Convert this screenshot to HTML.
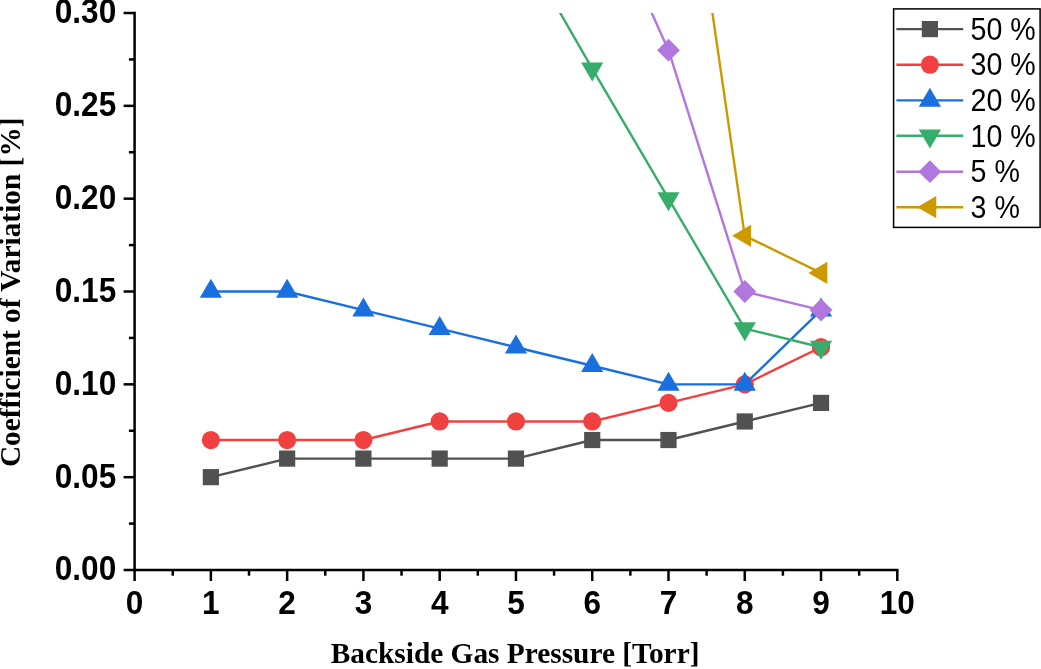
<!DOCTYPE html>
<html><head><meta charset="utf-8"><title>Coefficient of Variation vs Backside Gas Pressure</title>
<style>
html,body{margin:0;padding:0;background:#fff;}
body{width:1041px;height:669px;overflow:hidden;}
svg{display:block;}
.tk{font-family:"Liberation Sans",Arial,sans-serif;font-weight:bold;font-size:34.5px;fill:#000;}
.lg{font-family:"Liberation Sans",Arial,sans-serif;font-size:31.2px;fill:#000;}
.tt{font-family:"Liberation Serif","Times New Roman",serif;font-weight:bold;font-size:29.35px;fill:#000;font-variant-ligatures:none;font-feature-settings:"liga" 0,"clig" 0;}
</style></head><body>
<svg width="1041" height="669" viewBox="0 0 1041 669">
<rect width="1041" height="669" fill="#fff"/>
<defs><clipPath id="plot"><rect x="134.6" y="13" width="780" height="557"/></clipPath></defs>

<g stroke="#000" stroke-width="2.5" fill="none" stroke-linecap="butt">
<line x1="134.6" y1="11.75" x2="134.6" y2="571.25"/>
<line x1="133.35" y1="570.0" x2="898.55" y2="570.0"/>
<line x1="134.60" y1="570.0" x2="134.60" y2="581.0"/>
<line x1="172.73" y1="570.0" x2="172.73" y2="575.7"/>
<line x1="210.87" y1="570.0" x2="210.87" y2="581.0"/>
<line x1="249.00" y1="570.0" x2="249.00" y2="575.7"/>
<line x1="287.14" y1="570.0" x2="287.14" y2="581.0"/>
<line x1="325.27" y1="570.0" x2="325.27" y2="575.7"/>
<line x1="363.41" y1="570.0" x2="363.41" y2="581.0"/>
<line x1="401.54" y1="570.0" x2="401.54" y2="575.7"/>
<line x1="439.68" y1="570.0" x2="439.68" y2="581.0"/>
<line x1="477.81" y1="570.0" x2="477.81" y2="575.7"/>
<line x1="515.95" y1="570.0" x2="515.95" y2="581.0"/>
<line x1="554.08" y1="570.0" x2="554.08" y2="575.7"/>
<line x1="592.22" y1="570.0" x2="592.22" y2="581.0"/>
<line x1="630.36" y1="570.0" x2="630.36" y2="575.7"/>
<line x1="668.49" y1="570.0" x2="668.49" y2="581.0"/>
<line x1="706.62" y1="570.0" x2="706.62" y2="575.7"/>
<line x1="744.76" y1="570.0" x2="744.76" y2="581.0"/>
<line x1="782.89" y1="570.0" x2="782.89" y2="575.7"/>
<line x1="821.03" y1="570.0" x2="821.03" y2="581.0"/>
<line x1="859.16" y1="570.0" x2="859.16" y2="575.7"/>
<line x1="897.30" y1="570.0" x2="897.30" y2="581.0"/>
<line x1="134.6" y1="570.00" x2="123.6" y2="570.00"/>
<line x1="134.6" y1="523.59" x2="128.9" y2="523.59"/>
<line x1="134.6" y1="477.17" x2="123.6" y2="477.17"/>
<line x1="134.6" y1="430.75" x2="128.9" y2="430.75"/>
<line x1="134.6" y1="384.34" x2="123.6" y2="384.34"/>
<line x1="134.6" y1="337.93" x2="128.9" y2="337.93"/>
<line x1="134.6" y1="291.51" x2="123.6" y2="291.51"/>
<line x1="134.6" y1="245.09" x2="128.9" y2="245.09"/>
<line x1="134.6" y1="198.68" x2="123.6" y2="198.68"/>
<line x1="134.6" y1="152.26" x2="128.9" y2="152.26"/>
<line x1="134.6" y1="105.85" x2="123.6" y2="105.85"/>
<line x1="134.6" y1="59.44" x2="128.9" y2="59.44"/>
<line x1="134.6" y1="13.02" x2="123.6" y2="13.02"/>
</g>
<text class="tk" style="font-size:33.5px" transform="translate(134.60,613.5) scale(0.942,1)" text-anchor="middle">0</text>
<text class="tk" style="font-size:33.5px" transform="translate(210.87,613.5) scale(0.942,1)" text-anchor="middle">1</text>
<text class="tk" style="font-size:33.5px" transform="translate(287.14,613.5) scale(0.942,1)" text-anchor="middle">2</text>
<text class="tk" style="font-size:33.5px" transform="translate(363.41,613.5) scale(0.942,1)" text-anchor="middle">3</text>
<text class="tk" style="font-size:33.5px" transform="translate(439.68,613.5) scale(0.942,1)" text-anchor="middle">4</text>
<text class="tk" style="font-size:33.5px" transform="translate(515.95,613.5) scale(0.942,1)" text-anchor="middle">5</text>
<text class="tk" style="font-size:33.5px" transform="translate(592.22,613.5) scale(0.942,1)" text-anchor="middle">6</text>
<text class="tk" style="font-size:33.5px" transform="translate(668.49,613.5) scale(0.942,1)" text-anchor="middle">7</text>
<text class="tk" style="font-size:33.5px" transform="translate(744.76,613.5) scale(0.942,1)" text-anchor="middle">8</text>
<text class="tk" style="font-size:33.5px" transform="translate(821.03,613.5) scale(0.942,1)" text-anchor="middle">9</text>
<text class="tk" style="font-size:33.5px" transform="translate(897.30,613.5) scale(0.942,1)" text-anchor="middle">10</text>
<text class="tk" transform="translate(116.2,580.40) scale(0.915,1)" text-anchor="end">0.00</text>
<text class="tk" transform="translate(116.2,487.57) scale(0.915,1)" text-anchor="end">0.05</text>
<text class="tk" transform="translate(116.2,394.74) scale(0.915,1)" text-anchor="end">0.10</text>
<text class="tk" transform="translate(116.2,301.91) scale(0.915,1)" text-anchor="end">0.15</text>
<text class="tk" transform="translate(116.2,209.08) scale(0.915,1)" text-anchor="end">0.20</text>
<text class="tk" transform="translate(116.2,116.25) scale(0.915,1)" text-anchor="end">0.25</text>
<text class="tk" transform="translate(116.2,23.42) scale(0.915,1)" text-anchor="end">0.30</text>
<text class="tt" x="515.1" y="663.0" text-anchor="middle">Backside Gas Pressure [Torr]</text>
<text class="tt" transform="translate(19.7,292.3) rotate(-90)" text-anchor="middle">Coefficient of Variation [%]</text>
<g clip-path="url(#plot)">
<polyline points="210.87,477.17 287.14,458.60 363.41,458.60 439.68,458.60 515.95,458.60 592.22,440.04 668.49,440.04 744.76,421.47 821.03,402.91" fill="none" stroke="#515151" stroke-width="2.4" stroke-linejoin="round"/>
<rect x="202.77" y="469.07" width="16.2" height="16.2" fill="#515151"/>
<rect x="279.04" y="450.50" width="16.2" height="16.2" fill="#515151"/>
<rect x="355.31" y="450.50" width="16.2" height="16.2" fill="#515151"/>
<rect x="431.58" y="450.50" width="16.2" height="16.2" fill="#515151"/>
<rect x="507.85" y="450.50" width="16.2" height="16.2" fill="#515151"/>
<rect x="584.12" y="431.94" width="16.2" height="16.2" fill="#515151"/>
<rect x="660.39" y="431.94" width="16.2" height="16.2" fill="#515151"/>
<rect x="736.66" y="413.37" width="16.2" height="16.2" fill="#515151"/>
<rect x="812.93" y="394.81" width="16.2" height="16.2" fill="#515151"/>
<polyline points="210.87,440.04 287.14,440.04 363.41,440.04 439.68,421.47 515.95,421.47 592.22,421.47 668.49,402.91 744.76,384.34 821.03,347.21" fill="none" stroke="#F14040" stroke-width="2.4" stroke-linejoin="round"/>
<circle cx="210.87" cy="440.04" r="9.1" fill="#F14040"/>
<circle cx="287.14" cy="440.04" r="9.1" fill="#F14040"/>
<circle cx="363.41" cy="440.04" r="9.1" fill="#F14040"/>
<circle cx="439.68" cy="421.47" r="9.1" fill="#F14040"/>
<circle cx="515.95" cy="421.47" r="9.1" fill="#F14040"/>
<circle cx="592.22" cy="421.47" r="9.1" fill="#F14040"/>
<circle cx="668.49" cy="402.91" r="9.1" fill="#F14040"/>
<circle cx="744.76" cy="384.34" r="9.1" fill="#F14040"/>
<circle cx="821.03" cy="347.21" r="9.1" fill="#F14040"/>
<polyline points="210.87,291.51 287.14,291.51 363.41,310.08 439.68,328.64 515.95,347.21 592.22,365.77 668.49,384.34 744.76,384.34 821.03,310.08" fill="none" stroke="#1A6FDF" stroke-width="2.4" stroke-linejoin="round"/>
<polygon points="210.87,278.84 199.77,297.84 221.97,297.84" fill="#1A6FDF"/>
<polygon points="287.14,278.84 276.04,297.84 298.24,297.84" fill="#1A6FDF"/>
<polygon points="363.41,297.41 352.31,316.41 374.51,316.41" fill="#1A6FDF"/>
<polygon points="439.68,315.98 428.58,334.98 450.78,334.98" fill="#1A6FDF"/>
<polygon points="515.95,334.54 504.85,353.54 527.05,353.54" fill="#1A6FDF"/>
<polygon points="592.22,353.11 581.12,372.11 603.32,372.11" fill="#1A6FDF"/>
<polygon points="668.49,371.67 657.39,390.67 679.59,390.67" fill="#1A6FDF"/>
<polygon points="744.76,371.67 733.66,390.67 755.86,390.67" fill="#1A6FDF"/>
<polygon points="821.03,297.41 809.93,316.41 832.13,316.41" fill="#1A6FDF"/>
<polyline points="515.95,-64.21 592.22,68.72 668.49,198.68 744.76,328.64 821.03,347.21" fill="none" stroke="#37AD6B" stroke-width="2.4" stroke-linejoin="round"/>
<polygon points="592.22,81.38 581.12,62.38 603.32,62.38" fill="#37AD6B"/>
<polygon points="668.49,211.35 657.39,192.35 679.59,192.35" fill="#37AD6B"/>
<polygon points="744.76,341.31 733.66,322.31 755.86,322.31" fill="#37AD6B"/>
<polygon points="821.03,359.87 809.93,340.87 832.13,340.87" fill="#37AD6B"/>
<polyline points="592.22,-118.80 668.49,50.15 744.76,291.51 821.03,310.08" fill="none" stroke="#B177DE" stroke-width="2.4" stroke-linejoin="round"/>
<polygon points="668.49,38.75 679.89,50.15 668.49,61.55 657.09,50.15" fill="#B177DE"/>
<polygon points="744.76,280.11 756.16,291.51 744.76,302.91 733.36,291.51" fill="#B177DE"/>
<polygon points="821.03,298.68 832.43,310.08 821.03,321.48 809.63,310.08" fill="#B177DE"/>
<polyline points="668.49,-289.61 744.76,235.81 821.03,272.94" fill="none" stroke="#CC9900" stroke-width="2.4" stroke-linejoin="round"/>
<polygon points="732.09,235.81 751.09,224.71 751.09,246.91" fill="#CC9900"/>
<polygon points="808.36,272.94 827.36,261.84 827.36,284.04" fill="#CC9900"/>
</g>
<rect x="893.6" y="8.9" width="146.5" height="218.5" fill="#fff" stroke="#000" stroke-width="1.5"/>
<line x1="896.4" y1="29.1" x2="963.2" y2="29.1" stroke="#515151" stroke-width="2.4"/>
<rect x="921.80" y="21.00" width="16.2" height="16.2" fill="#515151"/>
<text class="lg" transform="translate(970.6,39.80) scale(0.917,1)">50 %</text>
<line x1="896.4" y1="64.7" x2="963.2" y2="64.7" stroke="#F14040" stroke-width="2.4"/>
<circle cx="929.90" cy="64.70" r="9.1" fill="#F14040"/>
<text class="lg" transform="translate(970.6,75.40) scale(0.917,1)">30 %</text>
<line x1="896.4" y1="100.4" x2="963.2" y2="100.4" stroke="#1A6FDF" stroke-width="2.4"/>
<polygon points="929.90,87.73 918.80,106.73 941.00,106.73" fill="#1A6FDF"/>
<text class="lg" transform="translate(970.6,111.10) scale(0.917,1)">20 %</text>
<line x1="896.4" y1="135.8" x2="963.2" y2="135.8" stroke="#37AD6B" stroke-width="2.4"/>
<polygon points="929.90,148.47 918.80,129.47 941.00,129.47" fill="#37AD6B"/>
<text class="lg" transform="translate(970.6,146.50) scale(0.917,1)">10 %</text>
<line x1="896.4" y1="171.7" x2="963.2" y2="171.7" stroke="#B177DE" stroke-width="2.4"/>
<polygon points="929.90,160.30 941.30,171.70 929.90,183.10 918.50,171.70" fill="#B177DE"/>
<text class="lg" transform="translate(970.6,182.40) scale(0.917,1)">5 %</text>
<line x1="896.4" y1="207.2" x2="963.2" y2="207.2" stroke="#CC9900" stroke-width="2.4"/>
<polygon points="917.23,207.20 936.23,196.10 936.23,218.30" fill="#CC9900"/>
<text class="lg" transform="translate(970.6,217.90) scale(0.917,1)">3 %</text>
</svg></body></html>
